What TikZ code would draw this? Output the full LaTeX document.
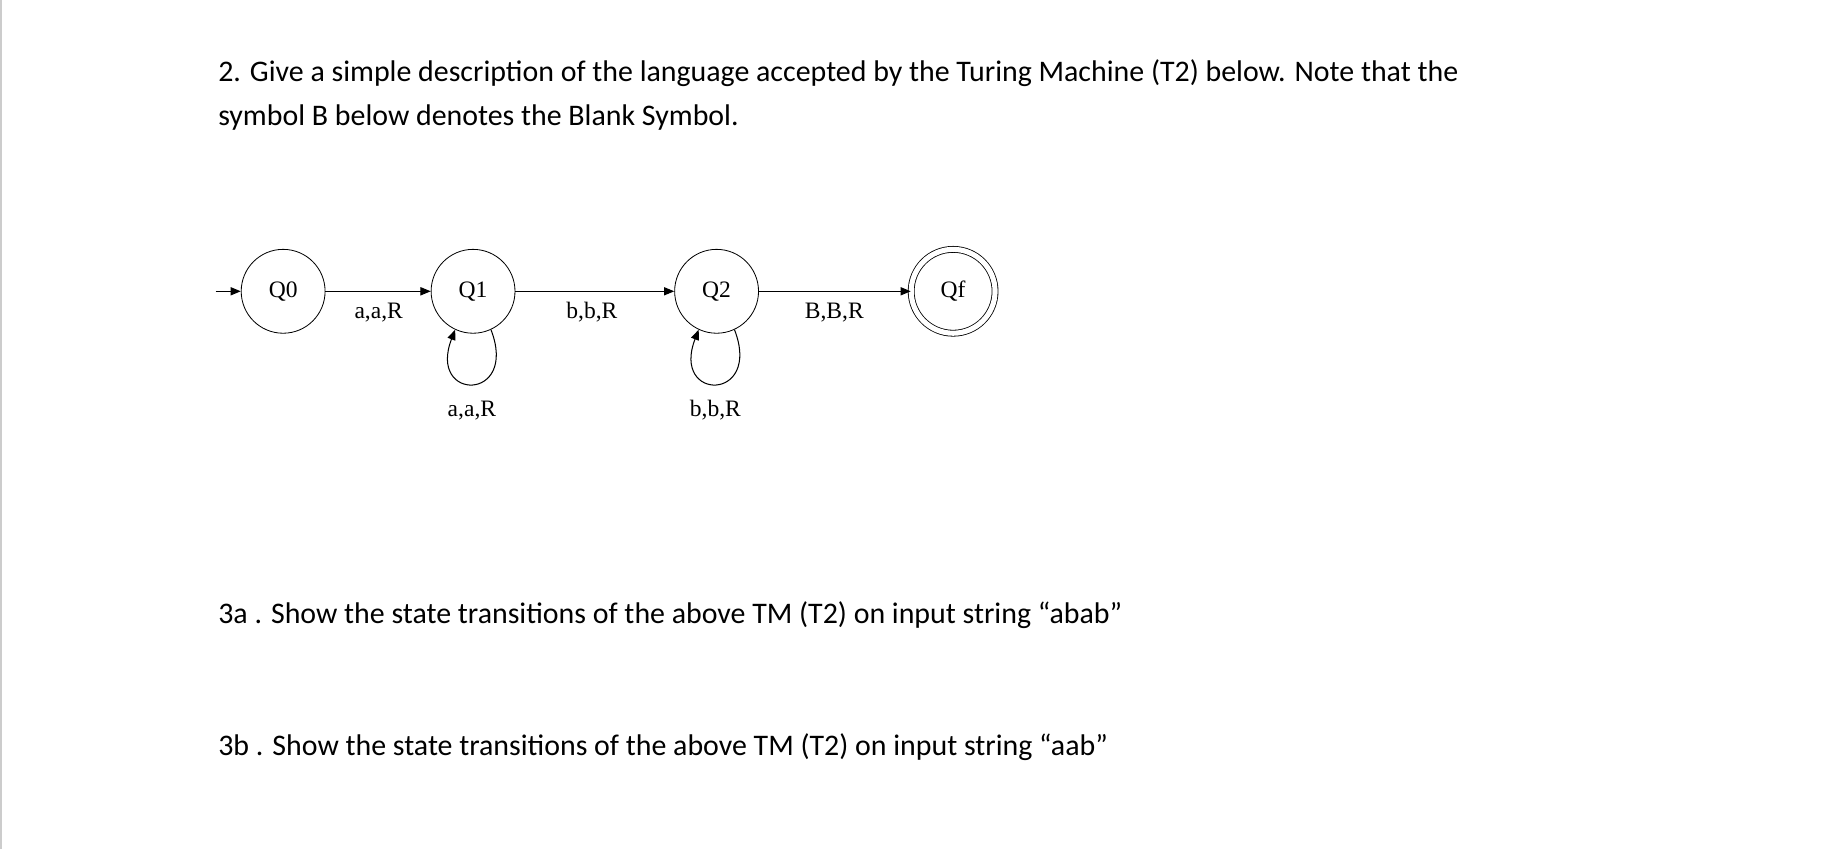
\documentclass[tikz,border=0pt]{standalone}
\usepackage{fontspec}
\setmainfont{Carlito}
\newfontfamily\tmsfont{Liberation Serif}
\usetikzlibrary{arrows.meta}
\begin{document}
\begin{tikzpicture}[x=0.02cm,y=-0.02cm,
  st/.style={draw,circle,minimum size=72\pgflinewidth*0+1.44cm,inner sep=0pt,font=\tmsfont\fontsize{11.5}{13}\selectfont},
  lbl/.style={font=\tmsfont\fontsize{11.5}{13}\selectfont,inner sep=0pt},
  txt/.style={anchor=west,inner sep=0pt,font=\fontsize{14.6}{17}\selectfont},
  edge/.style={-{Triangle[length=5pt,width=4pt]},line width=0.5pt}]
\useasboundingbox (0,0) rectangle (1568,729);
\draw[gray!40,line width=1pt] (1,0) -- (1,729);
\node[txt] (t1) at (187,63) {2. Give a simple description of the language accepted by the Turing Machine (T2) below. Note that the};
\node[txt] (t2) at (187,101) {symbol B below denotes the Blank Symbol.};
\node[st] (q0) at (243,250) {Q0};
\node[st] (q1) at (406,250) {Q1};
\node[st] (q2) at (615,250) {Q2};
\node[st,double,double distance=2.5pt] (qf) at (818,250) {Qf};
\coordinate (init) at (185,250);
\draw[edge] (init) -- (q0);
\draw[edge] (q0) -- (q1);
\draw[edge] (q1) -- (q2);
\draw[edge] (q2) -- (qf);
\node[lbl] (l1) at (325,268) {a,a,R};
\node[lbl] (l2) at (508,268) {b,b,R};
\node[lbl] (l3) at (716,268) {B,B,R};
\draw[edge] (q1.-65) .. controls +(24,62) and +(-24,62) .. (q1.-115);
\draw[edge] (q2.-65) .. controls +(24,62) and +(-24,62) .. (q2.-115);
\node[lbl] (l4) at (405,352) {a,a,R};
\node[lbl] (l5) at (614,352) {b,b,R};
\node[txt] (t3) at (187,528) {3a . Show the state transitions of the above TM (T2) on input string “abab”};
\node[txt] (t4) at (187,641) {3b . Show the state transitions of the above TM (T2) on input string “aab”};
\end{tikzpicture}
\end{document}
